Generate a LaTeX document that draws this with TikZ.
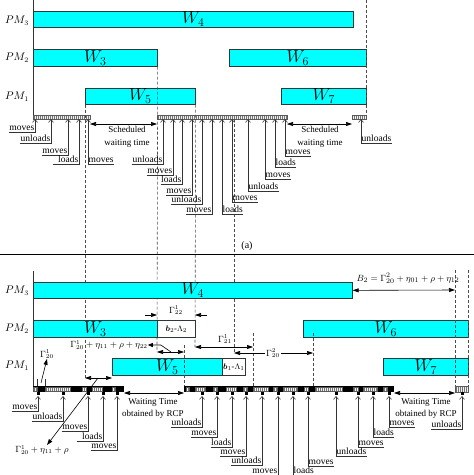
\documentclass[tikz,border=0pt]{standalone}
\usepackage{amsmath}
\usepackage{amssymb}
\usepackage{fontspec}
\setmainfont{Liberation Serif}
\usetikzlibrary{arrows.meta,patterns.meta,positioning}
\definecolor{wcyan}{RGB}{0,255,255}
\definecolor{wline}{RGB}{45,55,55}

\begin{document}
\begin{tikzpicture}[x=1pt, y=-1pt,
  wbar/.style={draw=wline, fill=wcyan, line width=0.7pt, inner sep=0pt, anchor=north west, font=\fontsize{17}{18}\selectfont},
  lbox/.style={draw=wline, fill=white, line width=0.7pt, inner sep=0pt, anchor=north west, font=\fontsize{8.5}{10}\selectfont},
  pmlab/.style={font=\fontsize{10.5}{12}\selectfont},
  oplab/.style={font=\fontsize{9.5}{10}\selectfont, inner xsep=0.5pt, inner ysep=1.5pt},
  opline/.style={draw=black!80, line width=0.6pt},
  oparrow/.style={opline, -{Straight Barb[length=3pt,width=5pt]}},
  gapar/.style={line width=0.6pt, {Triangle[length=6pt,width=4pt]}-{Triangle[length=6pt,width=4pt]}},
  onear/.style={line width=0.6pt, -{Triangle[length=6pt,width=4pt]}},
  guide/.style={black!70, line width=0.6pt, dash pattern=on 3pt off 2pt},
  cell/.style={draw=black!65, line width=0.4pt, preaction={fill=gray!12}, pattern={Lines[angle=90,distance=2pt,line width=0.5pt]}, pattern color=black!55},
  note/.style={font=\fontsize{9}{10}\selectfont, inner sep=0pt},
  gaptxt/.style={font=\fontsize{9}{12.5}\selectfont, align=center, inner sep=0pt}]
\useasboundingbox (0,0) rectangle (474,475);

% (a) scheduled timetable
\draw[opline, line width=0.8pt] (33,0) -- (33,117);
\node[pmlab] (pm3a) at (17,21) {$PM_3$};
\node[pmlab] (pm2a) at (17,58) {$PM_2$};
\node[pmlab] (pm1a) at (17,97) {$PM_1$};
\node[wbar, minimum width=320pt, minimum height=16pt] (w4a) at (33,11) {$W_4$};
\node[wbar, minimum width=124pt, minimum height=17pt] (w3a) at (33,49) {$W_3$};
\node[wbar, minimum width=137pt, minimum height=17pt] (w6a) at (229,49) {$W_6$};
\node[wbar, minimum width=110pt, minimum height=16pt] (w5a) at (85,88) {$W_5$};
\node[wbar, minimum width=85pt, minimum height=16pt] (w7a) at (281,88) {$W_7$};
\foreach \a/\b in {33/90,157/287,352/366}
  \draw[cell] (\a,115) rectangle (\b,119);
\coordinate (ta) at (0,119);

% (b) bars under the guides
\draw[opline, line width=0.8pt] (33,271) -- (33,392);
\node[pmlab] (pm3b) at (17,291) {$PM_3$};
\node[pmlab] (pm2b) at (17,329) {$PM_2$};
\node[pmlab] (pm1b) at (17,366) {$PM_1$};
\node[wbar, minimum width=165pt, minimum height=17pt] (w6b) at (303,320) {$W_6$};
\node[wbar, minimum width=110pt, minimum height=17pt] (w5b) at (112,358) {$W_5$};
\node[lbox, minimum width=23pt, minimum height=17pt] (b1) at (222,358) {$\boldsymbol{b}_1$-$\Lambda_1$};
\node[wbar, minimum width=85pt, minimum height=17pt] (w7b) at (383,358) {$W_7$};

% interval ends
\coordinate (e11l) at (85,378);
\coordinate (e11r) at (112,378);
\coordinate (e11m) at (98,378);
\coordinate (e22l) at (157,352);
\coordinate (e22r) at (184,352);
\coordinate (e22m) at (171,352);
\coordinate (c21l) at (195,347);
\coordinate (c21r) at (253,347);
\coordinate (c20l) at (234,353);
\coordinate (c20r) at (313,353);

% guides
\draw[guide] (w5a.south west) -- (e11l);
\draw[guide] (w3a.south east) -- (e22l);
\draw[guide] (w5a.south east) -- (c21l);
\draw[guide] (c20l |- ta) -- (c20l);
\draw[guide] (366,0) -- (366,115);
\draw[guide] (184,345) -- (184,386);
\draw[guide] (253,333) -- (253,386);
\draw[guide] (313,333) -- (313,386);
\draw[guide] (455,270) -- (455,386);
\draw[guide] (468,270) -- (468,386);

% (b) bars over the guides
\node[wbar, minimum width=319pt, minimum height=16pt] (w4b) at (33,282) {$W_4$};
\node[wbar, minimum width=124pt, minimum height=17pt] (w3b) at (33,320) {$W_3$};
\node[lbox, minimum width=38pt, minimum height=17pt] (b2) at (157,320) {$\boldsymbol{b}_2$-$\Lambda_2$};

% separator
\draw[line width=0.9pt] (0,254) -- (474,254);
\node[font=\fontsize{10}{12}\selectfont] (cap) at (247,246) {(a)};

% scheduled waiting times
\coordinate (sw1l) at (90,124);
\coordinate (sw1r) at (157,124);
\coordinate (sw2l) at (287,124);
\coordinate (sw2r) at (352,124);
\draw[gapar] (sw1l) -- (sw1r);
\draw[gapar] (sw2l) -- (sw2r);
\node[gaptxt] (sw1) at (127,137) {Scheduled\\waiting time};
\node[gaptxt] (sw2) at (320,137) {Scheduled\\waiting time};

% (a) operations
\foreach \x/\y/\txt [count=\i] in {35/128/moves,51/139/unloads,68/151/moves,79/160/\hspace{5pt}loads,163/160/unloads,173/171/moves,182/180/loads,192/191/moves,202/200/unloads,212/210/moves}{
  \node[oplab, anchor=south east] (al\i) at (\x,\y+4.5) {\txt};
  \draw[opline] (al\i.south west) -- (al\i.south east);
  \draw[oparrow] (al\i.south east) -- (al\i.south east |- ta);
}
\foreach \x/\y/\txt [count=\i] in {88/160/moves,222/210/loads\hspace{3pt},232/198/moves,248/187/unloads,265/175/moves,275/163/loads\hspace{6pt},285/152/moves,361/139/unloads}{
  \node[oplab, anchor=south west] (ar\i) at (\x,\y+4.5) {\txt};
  \draw[opline] (ar\i.south west) -- (ar\i.south east);
  \draw[oparrow] (ar\i.south west) -- (ar\i.south west |- ta);
}

% (b) time line
\foreach \a/\b in {33/124,184/394}
  \fill[black] (\a,386) rectangle (\b,392);
\foreach \a/\b in {33/37,45/70,82/86,92/102,112/115,186/189,195/205,213/217,226/236,243/247,253/268,273/277,283/297,304/308,315/342,353/358,363/377,383/387}
  \draw[cell] (\a,387) rectangle (\b,391);
\draw[cell] (455,386) rectangle (468,392);
\coordinate (tb) at (0,396);

% B2 and gaps
\coordinate (b2end) at (455,290);
\draw[gapar] (w4b.east) -- (b2end);
\node[note, font=\fontsize{9.5}{10}\selectfont] (b2lab) at (408,278) {$B_2=\Gamma^2_{20}+\eta_{01}+\rho+\eta_{12}$};
\coordinate (g22l) at (157,315);
\coordinate (g22r) at (195,315);
\node[note] (g22) at (176,310) {$\Gamma^1_{22}$};
\draw[onear] ([xshift=-12pt]g22l) -- (g22l);
\draw[onear] ([xshift=12pt]g22r) -- (g22r);
\draw[gapar] (c21l) -- (c21r);
\node[note] (g21) at (225,339) {$\Gamma^1_{21}$};
\draw[gapar] (c20l) -- (c20r);
\node[note, fill=white, inner sep=1pt] (g20b) at (273,353) {$\Gamma^2_{20}$};
\draw[gapar] (e22l) -- (e22r);
\node[note] (etop) at (109,345) {$\Gamma^1_{20}+\eta_{11}+\rho+\eta_{22}$};
\draw[{Triangle[length=5pt,width=4pt]}-, line width=0.6pt] (etop.east) -- ++(13,0) -- (e22m);
\draw[gapar] (e11l) -- (e11r);
\node[note] (ebot) at (42,450) {$\Gamma^1_{20}+\eta_{11}+\rho$};
\draw[onear] (e11m) -- ([xshift=5pt]ebot.north);
\node[note] (gsm) at (47,354) {$\Gamma^1_{20}$};
\coordinate (gsmb) at (41,383);
\draw[onear] (gsmb) -- (gsm.south);
\draw[opline] (37,379) -- (37,386) (45,379) -- (45,386);

% waiting times by RCP
\coordinate (rc1l) at (124,393);
\coordinate (rc1r) at (184,393);
\coordinate (rc2l) at (394,393);
\coordinate (rc2r) at (455,393);
\draw[gapar] (rc1l) -- (rc1r);
\draw[gapar] (rc2l) -- (rc2r);
\node[gaptxt] (rc1) at (153,408.5) {Waiting Time\\obtained by RCP};
\node[gaptxt] (rc2) at (426,408.5) {Waiting Time\\obtained by RCP};

% (b) operations
\foreach \x/\y/\txt [count=\i] in {38/407/moves,63/417/unloads,88/427/moves,103/437/\hspace{5pt}loads,117/446/moves,202/423/unloads,217/433/moves,232/443/loads,246/452/moves,262/461/unloads,278/471/moves,462/425/unloads}{
  \fill (\x-1.5,392) rectangle (\x+1.5,395);
  \node[oplab, anchor=south east] (bl\i) at (\x,\y+4.5) {\txt};
  \draw[opline] (bl\i.south west) -- (bl\i.south east);
  \draw[oparrow] (bl\i.south east) -- (bl\i.south east |- tb);
}
\foreach \x/\y/\txt [count=\i] in {293/471/loads\hspace{4pt},308/462/moves,336/452/unloads,358/443/moves,373/433/loads\hspace{7pt},389/423/moves}{
  \fill (\x-1.5,392) rectangle (\x+1.5,395);
  \node[oplab, anchor=south west] (br\i) at (\x,\y+4.5) {\txt};
  \draw[opline] (br\i.south west) -- (br\i.south east);
  \draw[oparrow] (br\i.south west) -- (br\i.south west |- tb);
}
\end{tikzpicture}
\end{document}
